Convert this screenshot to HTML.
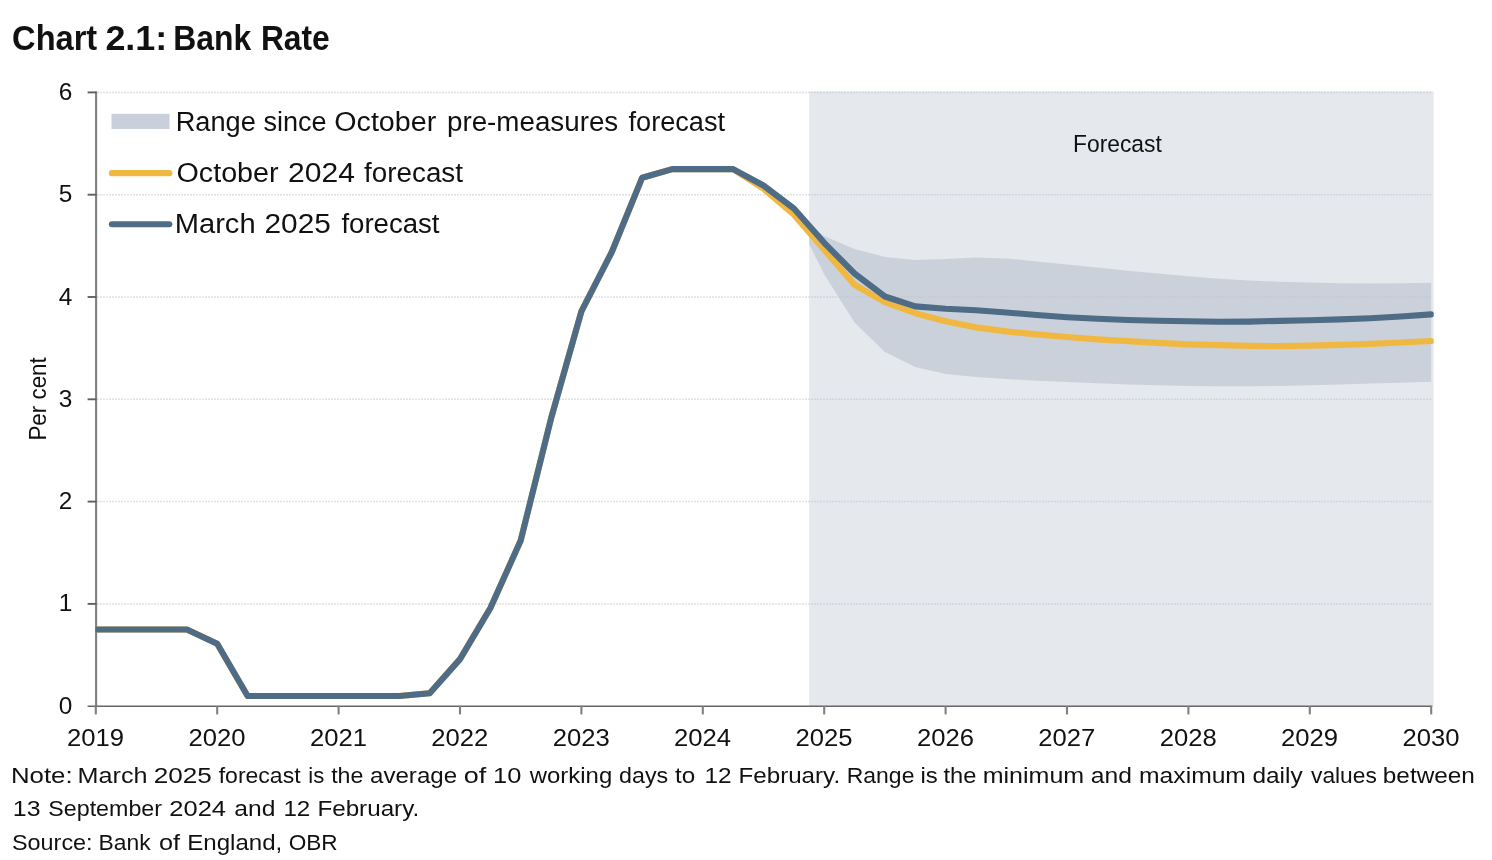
<!DOCTYPE html>
<html lang="en"><head><meta charset="utf-8"><title>Chart 2.1: Bank Rate</title>
<style>html,body{margin:0;padding:0;background:#fff}svg{display:block}text{font-family:"Liberation Sans", Arial, Helvetica, sans-serif;fill:#111}</style></head><body>
<svg width="1492" height="860" viewBox="0 0 1492 860">
<rect width="1492" height="860" fill="#fff"/>
<rect x="809.2" y="91.4" width="624.4" height="614.8" fill="#e5e8ed"/>
<clipPath id="band"><rect x="809.2" y="91.4" width="622.6" height="614.8"/></clipPath>
<polygon points="793.9,213.6 824.2,236.1 854.5,248.9 884.9,256.9 915.2,260.0 945.6,258.9 976.0,257.6 1006.3,258.4 1036.7,261.4 1067.0,264.5 1097.4,267.6 1127.7,270.8 1158.0,273.5 1188.4,276.3 1218.8,278.8 1249.1,280.4 1279.5,281.7 1309.8,282.6 1340.2,283.2 1370.5,283.4 1400.8,283.2 1431.2,282.8 1431.2,381.7 1400.8,382.7 1370.5,383.5 1340.2,384.5 1309.8,385.3 1279.5,385.9 1249.1,386.3 1218.8,386.3 1188.4,386.1 1158.0,385.3 1127.7,384.5 1097.4,383.3 1067.0,382.1 1036.7,380.7 1006.3,379.1 976.0,377.1 945.6,374.1 915.2,367.1 884.9,351.9 854.5,322.6 824.2,274.3 793.9,213.6" fill="#cbd1db" clip-path="url(#band)"/>
<line x1="97" x2="1431.6" y1="603.9" y2="603.9" stroke="#bfc4cc" stroke-width="1.5" stroke-dasharray="2 1" opacity="0.5"/>
<line x1="97" x2="1431.6" y1="501.6" y2="501.6" stroke="#bfc4cc" stroke-width="1.5" stroke-dasharray="2 1" opacity="0.5"/>
<line x1="97" x2="1431.6" y1="399.3" y2="399.3" stroke="#bfc4cc" stroke-width="1.5" stroke-dasharray="2 1" opacity="0.5"/>
<line x1="97" x2="1431.6" y1="297.0" y2="297.0" stroke="#bfc4cc" stroke-width="1.5" stroke-dasharray="2 1" opacity="0.5"/>
<line x1="97" x2="1431.6" y1="194.7" y2="194.7" stroke="#bfc4cc" stroke-width="1.5" stroke-dasharray="2 1" opacity="0.5"/>
<line x1="97" x2="1431.6" y1="92.4" y2="92.4" stroke="#bfc4cc" stroke-width="1.5" stroke-dasharray="2 1" opacity="0.5"/>
<line x1="96.1" x2="96.1" y1="91.6" y2="707.0" stroke="#808080" stroke-width="2.1"/>
<line x1="87.6" x2="1432.3" y1="706.2" y2="706.2" stroke="#666" stroke-width="1.6"/>
<line x1="87.6" x2="96.5" y1="603.9" y2="603.9" stroke="#606060" stroke-width="1.9"/>
<line x1="87.6" x2="96.5" y1="501.6" y2="501.6" stroke="#606060" stroke-width="1.9"/>
<line x1="87.6" x2="96.5" y1="399.3" y2="399.3" stroke="#606060" stroke-width="1.9"/>
<line x1="87.6" x2="96.5" y1="297.0" y2="297.0" stroke="#606060" stroke-width="1.9"/>
<line x1="87.6" x2="96.5" y1="194.7" y2="194.7" stroke="#606060" stroke-width="1.9"/>
<line x1="87.6" x2="96.5" y1="92.4" y2="92.4" stroke="#606060" stroke-width="1.9"/>
<line x1="95.8" x2="95.8" y1="706.2" y2="714.4" stroke="#808080" stroke-width="2.1"/>
<line x1="217.2" x2="217.2" y1="706.2" y2="714.4" stroke="#808080" stroke-width="2.1"/>
<line x1="338.6" x2="338.6" y1="706.2" y2="714.4" stroke="#808080" stroke-width="2.1"/>
<line x1="460.0" x2="460.0" y1="706.2" y2="714.4" stroke="#808080" stroke-width="2.1"/>
<line x1="581.4" x2="581.4" y1="706.2" y2="714.4" stroke="#808080" stroke-width="2.1"/>
<line x1="702.8" x2="702.8" y1="706.2" y2="714.4" stroke="#808080" stroke-width="2.1"/>
<line x1="824.2" x2="824.2" y1="706.2" y2="714.4" stroke="#808080" stroke-width="2.1"/>
<line x1="945.6" x2="945.6" y1="706.2" y2="714.4" stroke="#808080" stroke-width="2.1"/>
<line x1="1067.0" x2="1067.0" y1="706.2" y2="714.4" stroke="#808080" stroke-width="2.1"/>
<line x1="1188.4" x2="1188.4" y1="706.2" y2="714.4" stroke="#808080" stroke-width="2.1"/>
<line x1="1309.8" x2="1309.8" y1="706.2" y2="714.4" stroke="#808080" stroke-width="2.1"/>
<line x1="1431.2" x2="1431.2" y1="706.2" y2="714.4" stroke="#808080" stroke-width="2.1"/>
<clipPath id="plot"><rect x="95.2" y="80" width="1338.5" height="640"/></clipPath>
<g clip-path="url(#plot)">
<polyline points="95.8,629.5 126.2,629.5 156.5,629.5 186.9,629.5 217.2,643.8 247.6,696.0 277.9,696.0 308.2,696.0 338.6,696.0 369.0,696.0 399.3,696.0 429.7,693.2 460.0,659.1 490.4,608.0 520.7,540.5 551.0,418.7 581.4,311.3 611.8,252.0 642.1,177.8 672.4,169.1 702.8,169.1 733.1,169.1 763.5,188.6 793.9,214.6 824.2,249.7 854.5,284.7 884.9,302.1 915.2,313.2 945.6,321.3 976.0,327.4 1006.3,331.4 1036.7,334.3 1067.0,337.0 1097.4,339.4 1127.7,341.2 1158.0,342.9 1188.4,344.3 1218.8,345.2 1249.1,345.8 1279.5,346.1 1309.8,345.6 1340.2,344.8 1370.5,343.8 1400.8,342.5 1431.2,341.0" fill="none" stroke="#f0b840" stroke-width="6.2" stroke-linejoin="round" stroke-linecap="round"/>
<polyline points="95.8,629.5 126.2,629.5 156.5,629.5 186.9,629.5 217.2,643.8 247.6,696.0 277.9,696.0 308.2,696.0 338.6,696.0 369.0,696.0 399.3,696.0 429.7,693.2 460.0,659.1 490.4,608.0 520.7,540.5 551.0,418.7 581.4,311.3 611.8,252.0 642.1,177.8 672.4,169.1 702.8,169.1 733.1,169.1 763.5,185.5 793.9,208.5 824.2,242.8 854.5,273.5 884.9,296.5 915.2,306.4 945.6,308.8 976.0,310.2 1006.3,312.5 1036.7,315.0 1067.0,317.2 1097.4,318.8 1127.7,320.0 1158.0,320.7 1188.4,321.2 1218.8,321.8 1249.1,321.6 1279.5,320.9 1309.8,320.2 1340.2,319.4 1370.5,318.2 1400.8,316.5 1431.2,314.4" fill="none" stroke="#4e6c86" stroke-width="6.1" stroke-linejoin="round" stroke-linecap="round"/>
</g>
<rect x="111.5" y="113.8" width="58" height="15.2" fill="#c9d0db"/>
<line x1="111.9" x2="169.3" y1="173.2" y2="173.2" stroke="#f0b840" stroke-width="6.2" stroke-linecap="round"/>
<line x1="111.9" x2="169.3" y1="224.2" y2="224.2" stroke="#4e6c86" stroke-width="6.1" stroke-linecap="round"/>
<g font-size="34.4" font-weight="bold">
<text x="12.1" y="49.9" textLength="85.1" lengthAdjust="spacingAndGlyphs">Chart</text>
<text x="105.4" y="49.9" textLength="61.9" lengthAdjust="spacingAndGlyphs">2.1:</text>
<text x="173.3" y="49.9" textLength="77.9" lengthAdjust="spacingAndGlyphs">Bank</text>
<text x="260.9" y="49.9" textLength="68.9" lengthAdjust="spacingAndGlyphs">Rate</text>
</g>
<g font-size="28.4">
<text x="175.7" y="130.6" textLength="80.1" lengthAdjust="spacingAndGlyphs">Range</text>
<text x="263.4" y="130.6" textLength="63.1" lengthAdjust="spacingAndGlyphs">since</text>
<text x="334.3" y="130.6" textLength="101.9" lengthAdjust="spacingAndGlyphs">October</text>
<text x="447.0" y="130.6" textLength="171.2" lengthAdjust="spacingAndGlyphs">pre-measures</text>
<text x="628.5" y="130.6" textLength="96.6" lengthAdjust="spacingAndGlyphs">forecast</text>
</g>
<g font-size="28.4">
<text x="176.5" y="181.6" textLength="102.1" lengthAdjust="spacingAndGlyphs">October</text>
<text x="288.0" y="181.6" textLength="66.9" lengthAdjust="spacingAndGlyphs">2024</text>
<text x="364.1" y="181.6" textLength="98.9" lengthAdjust="spacingAndGlyphs">forecast</text>
</g>
<g font-size="28.4">
<text x="174.8" y="233.3" textLength="80.8" lengthAdjust="spacingAndGlyphs">March</text>
<text x="264.5" y="233.3" textLength="66.4" lengthAdjust="spacingAndGlyphs">2025</text>
<text x="341.4" y="233.3" textLength="98.1" lengthAdjust="spacingAndGlyphs">forecast</text>
</g>
<g font-size="24.3">
<text x="1073.0" y="151.6" textLength="88.8" lengthAdjust="spacingAndGlyphs">Forecast</text>
</g>
<g font-size="24.4" text-anchor="end">
<text x="72.4" y="713.7">0</text>
<text x="72.4" y="611.4">1</text>
<text x="72.4" y="509.1">2</text>
<text x="72.4" y="406.8">3</text>
<text x="72.4" y="304.5">4</text>
<text x="72.4" y="202.2">5</text>
<text x="72.4" y="99.9">6</text>
</g>
<g font-size="24.4" text-anchor="middle">
<text x="95.6" y="746.2" textLength="57" lengthAdjust="spacingAndGlyphs">2019</text>
<text x="217.0" y="746.2" textLength="57" lengthAdjust="spacingAndGlyphs">2020</text>
<text x="338.4" y="746.2" textLength="57" lengthAdjust="spacingAndGlyphs">2021</text>
<text x="459.8" y="746.2" textLength="57" lengthAdjust="spacingAndGlyphs">2022</text>
<text x="581.2" y="746.2" textLength="57" lengthAdjust="spacingAndGlyphs">2023</text>
<text x="702.6" y="746.2" textLength="57" lengthAdjust="spacingAndGlyphs">2024</text>
<text x="824.0" y="746.2" textLength="57" lengthAdjust="spacingAndGlyphs">2025</text>
<text x="945.4" y="746.2" textLength="57" lengthAdjust="spacingAndGlyphs">2026</text>
<text x="1066.8" y="746.2" textLength="57" lengthAdjust="spacingAndGlyphs">2027</text>
<text x="1188.2" y="746.2" textLength="57" lengthAdjust="spacingAndGlyphs">2028</text>
<text x="1309.6" y="746.2" textLength="57" lengthAdjust="spacingAndGlyphs">2029</text>
<text x="1431.0" y="746.2" textLength="57" lengthAdjust="spacingAndGlyphs">2030</text>
</g>
<text font-size="24.6" transform="translate(45.7 440.6) rotate(-90)" textLength="83.4" lengthAdjust="spacingAndGlyphs">Per cent</text>
<g font-size="22.3">
<text x="11.0" y="783.2" textLength="61.6" lengthAdjust="spacingAndGlyphs">Note:</text>
<text x="77.6" y="783.2" textLength="69.9" lengthAdjust="spacingAndGlyphs">March</text>
<text x="153.7" y="783.2" textLength="58.1" lengthAdjust="spacingAndGlyphs">2025</text>
<text x="218.7" y="783.2" textLength="81.9" lengthAdjust="spacingAndGlyphs">forecast</text>
<text x="308.3" y="783.2" textLength="16.0" lengthAdjust="spacingAndGlyphs">is</text>
<text x="331.2" y="783.2" textLength="32.2" lengthAdjust="spacingAndGlyphs">the</text>
<text x="370.0" y="783.2" textLength="87.1" lengthAdjust="spacingAndGlyphs">average</text>
<text x="463.7" y="783.2" textLength="22.5" lengthAdjust="spacingAndGlyphs">of</text>
<text x="493.1" y="783.2" textLength="28.3" lengthAdjust="spacingAndGlyphs">10</text>
<text x="529.8" y="783.2" textLength="82.4" lengthAdjust="spacingAndGlyphs">working</text>
<text x="619.1" y="783.2" textLength="49.1" lengthAdjust="spacingAndGlyphs">days</text>
<text x="675.0" y="783.2" textLength="20.2" lengthAdjust="spacingAndGlyphs">to</text>
<text x="704.5" y="783.2" textLength="27.1" lengthAdjust="spacingAndGlyphs">12</text>
<text x="738.5" y="783.2" textLength="101.6" lengthAdjust="spacingAndGlyphs">February.</text>
<text x="846.8" y="783.2" textLength="67.6" lengthAdjust="spacingAndGlyphs">Range</text>
<text x="920.5" y="783.2" textLength="17.3" lengthAdjust="spacingAndGlyphs">is</text>
<text x="943.5" y="783.2" textLength="32.9" lengthAdjust="spacingAndGlyphs">the</text>
<text x="982.7" y="783.2" textLength="101.5" lengthAdjust="spacingAndGlyphs">minimum</text>
<text x="1090.8" y="783.2" textLength="41.1" lengthAdjust="spacingAndGlyphs">and</text>
<text x="1139.1" y="783.2" textLength="106.8" lengthAdjust="spacingAndGlyphs">maximum</text>
<text x="1252.4" y="783.2" textLength="50.2" lengthAdjust="spacingAndGlyphs">daily</text>
<text x="1311.0" y="783.2" textLength="65.8" lengthAdjust="spacingAndGlyphs">values</text>
<text x="1382.8" y="783.2" textLength="92.1" lengthAdjust="spacingAndGlyphs">between</text>
</g>
<g font-size="22.3">
<text x="12.8" y="816.4" textLength="27.7" lengthAdjust="spacingAndGlyphs">13</text>
<text x="48.3" y="816.4" textLength="113.7" lengthAdjust="spacingAndGlyphs">September</text>
<text x="169.3" y="816.4" textLength="56.7" lengthAdjust="spacingAndGlyphs">2024</text>
<text x="234.3" y="816.4" textLength="41.1" lengthAdjust="spacingAndGlyphs">and</text>
<text x="283.4" y="816.4" textLength="26.9" lengthAdjust="spacingAndGlyphs">12</text>
<text x="317.4" y="816.4" textLength="101.8" lengthAdjust="spacingAndGlyphs">February.</text>
</g>
<g font-size="22.3">
<text x="12.0" y="849.7" textLength="80.6" lengthAdjust="spacingAndGlyphs">Source:</text>
<text x="98.6" y="849.7" textLength="52.1" lengthAdjust="spacingAndGlyphs">Bank</text>
<text x="158.9" y="849.7" textLength="21.1" lengthAdjust="spacingAndGlyphs">of</text>
<text x="187.2" y="849.7" textLength="95.1" lengthAdjust="spacingAndGlyphs">England,</text>
<text x="288.7" y="849.7" textLength="49.0" lengthAdjust="spacingAndGlyphs">OBR</text>
</g>
</svg></body></html>
